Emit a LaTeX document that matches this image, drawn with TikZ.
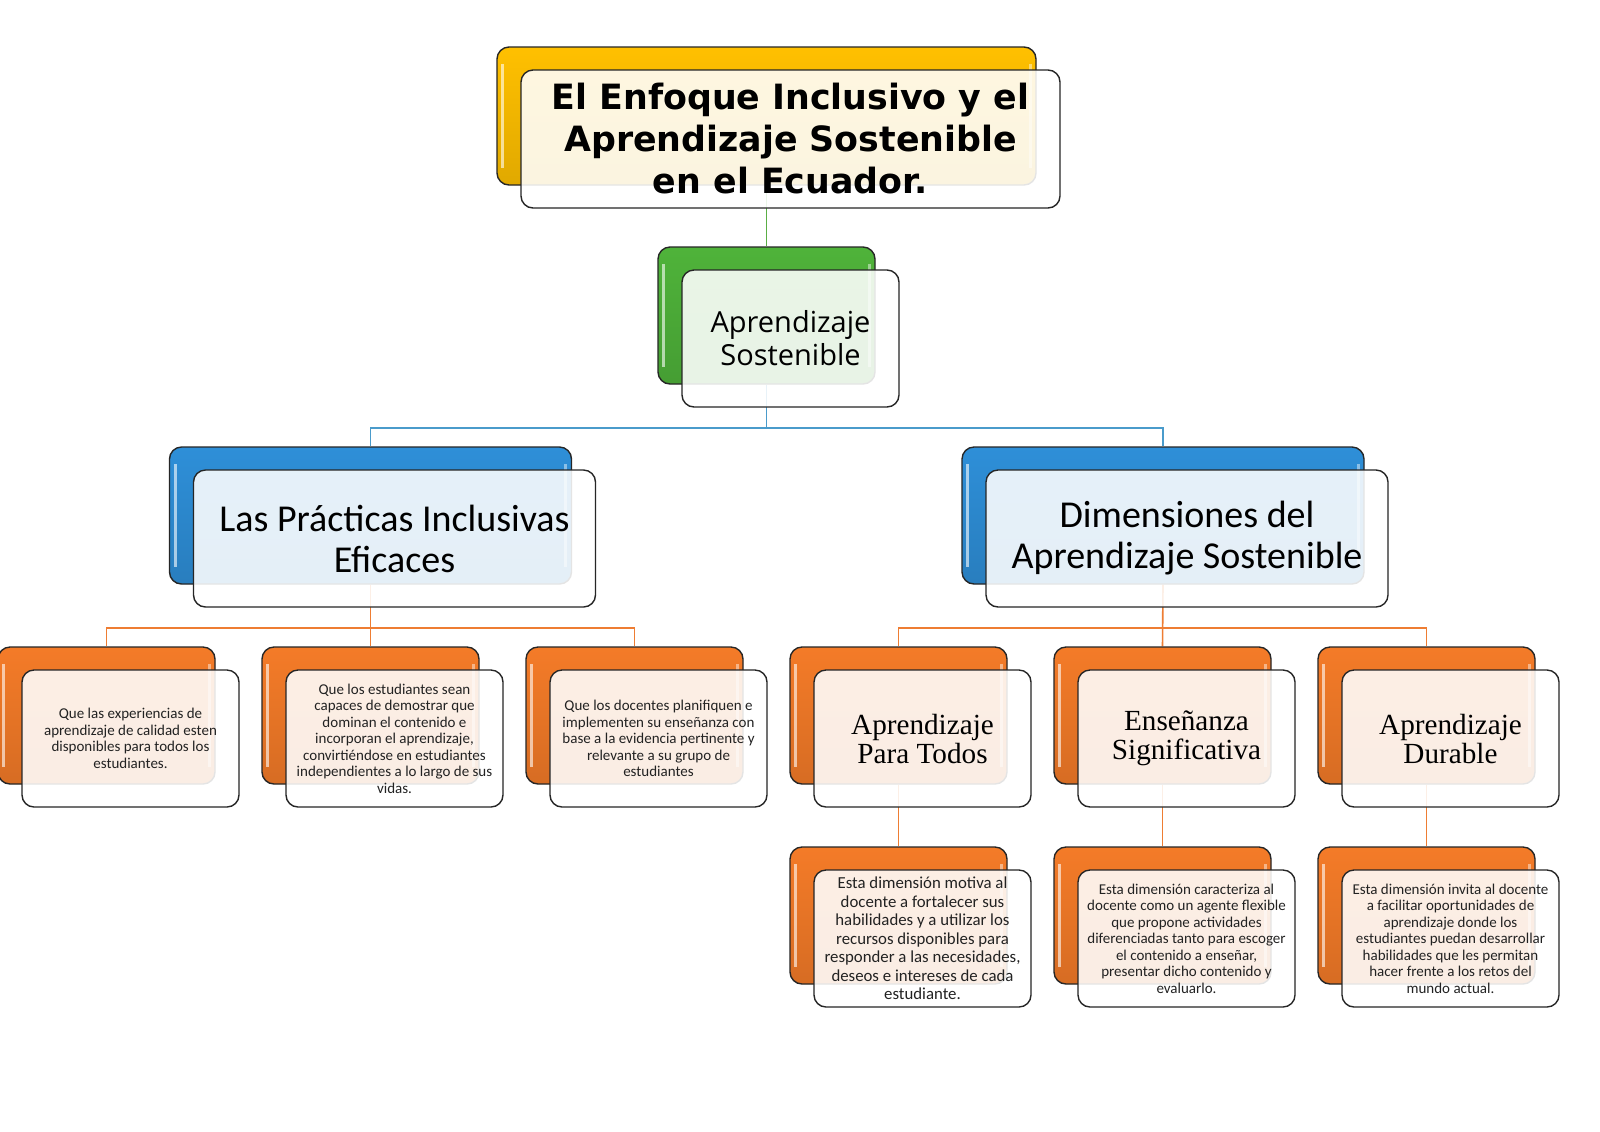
\documentclass[tikz,border=0pt]{standalone}
\usepackage{fontspec}
\setmainfont{Carlito}
\newfontfamily\titlefont{DejaVu Sans}
\newfontfamily\greenfont{Open Sans}
\newfontfamily\seriffont{Liberation Serif}
\pgfdeclarelayer{paper}
\pgfdeclarelayer{bg}
\pgfsetlayers{paper,bg,main}
\definecolor{cyellow}{HTML}{FFC000}
\definecolor{cgreen}{HTML}{4FB33A}
\definecolor{cblue}{HTML}{2E8FD8}
\definecolor{corange}{HTML}{F47B28}
\definecolor{lgreen}{HTML}{5AAE45}
\definecolor{lblue}{HTML}{4A9BCB}
\definecolor{lorange}{HTML}{EE7D33}
\definecolor{edge}{HTML}{262626}
\definecolor{txt}{HTML}{222222}
\tikzset{
  backbox/.style={draw=edge, line width=0.7pt, rounded corners=6pt, inner sep=0pt},
  frontbox/.style={draw=edge, line width=0.7pt, rounded corners=6pt, fill=white,
    fill opacity=0.88, text opacity=1, draw opacity=1, inner sep=2pt, align=center, text=txt},
  conn/.style={line width=0.8pt},
  titlef/.style={font=\titlefont\bfseries\fontsize{17.4}{21}\selectfont, text=black},
  greenf/.style={font=\greenfont\fontsize{14.5}{16.5}\selectfont, text=black},
  midf/.style={font=\fontsize{19}{20.5}\selectfont, text=black},
  smallf/.style={font=\fontsize{7.5}{8.25}\selectfont},
  medf/.style={font=\fontsize{8.4}{9.25}\selectfont},
  serf/.style={font=\seriffont\fontsize{14.6}{14.5}\selectfont, text=black},
}
% name, color, cx, cy, w, h, font style, text
\newcommand\elem[8]{%
  \node[backbox, top color=#2, bottom color=#2!88!black,
        minimum width=#5*0.5pt, minimum height=#6*0.5pt] (#1b) at (#3,#4) {};%
  \fill[white, opacity=0.6] ([xshift=2.5pt,yshift=-9pt]#1b.north west) rectangle ([xshift=4pt,yshift=9pt]#1b.south west);%
  \fill[white, opacity=0.45] ([xshift=-4pt,yshift=-9pt]#1b.north east) rectangle ([xshift=-2.5pt,yshift=9pt]#1b.south east);%
  \node[frontbox, #7, minimum width=#5*0.5pt, minimum height=#6*0.5pt] (#1) at (#3+24,#4+23) {#8};%
}
\begin{document}
\begin{tikzpicture}[x=0.5pt,y=-0.5pt]
\begin{pgfonlayer}{paper}
  \fill[white] (0,0) rectangle (1600,1131);
\end{pgfonlayer}

\elem{T}{cyellow}{766.5}{116}{539}{138}{titlef}{El Enfoque Inclusivo y el\\Aprendizaje Sostenible\\en el Ecuador.}
\elem{G}{cgreen}{766.5}{315.5}{217}{137}{greenf}{Aprendizaje\\Sostenible}
\elem{BL}{cblue}{370.5}{515.5}{402}{137}{midf}{Las Prácticas Inclusivas\\Eficaces}
\elem{BR}{cblue}{1163}{515.5}{402}{137}{midf}{Dimensiones del\\Aprendizaje Sostenible}

\elem{O1}{corange}{106.5}{715.5}{217}{137}{smallf}{Que las experiencias de\\aprendizaje de calidad esten\\disponibles para todos los\\estudiantes.}
\elem{O2}{corange}{370.5}{715.5}{217}{137}{smallf}{Que los estudiantes sean\\capaces de demostrar que\\dominan el contenido e\\incorporan el aprendizaje,\\convirtiéndose en estudiantes\\independientes a lo largo de sus\\vidas.}
\elem{O3}{corange}{634.5}{715.5}{217}{137}{smallf}{Que los docentes planifiquen e\\implementen su enseñanza con\\base a la evidencia pertinente y\\relevante a su grupo de\\estudiantes}
\elem{O4}{corange}{898.5}{715.5}{217}{137}{serf}{Aprendizaje\\Para Todos}
\elem{O5}{corange}{1162.5}{715.5}{217}{137}{serf}{Enseñanza\\Significativa}
\elem{O6}{corange}{1426.5}{715.5}{217}{137}{serf}{Aprendizaje\\Durable}

\elem{D4}{corange}{898.5}{915.5}{217}{137}{medf}{Esta dimensión motiva al\\docente a fortalecer sus\\habilidades y a utilizar los\\recursos disponibles para\\responder a las necesidades,\\deseos e intereses de cada\\estudiante.}
\elem{D5}{corange}{1162.5}{915.5}{217}{137}{smallf}{Esta dimensión caracteriza al\\docente como un agente flexible\\que propone actividades\\diferenciadas tanto para escoger\\el contenido a enseñar,\\presentar dicho contenido y\\evaluarlo.}
\elem{D6}{corange}{1426.5}{915.5}{217}{137}{smallf}{Esta dimensión invita al docente\\a facilitar oportunidades de\\aprendizaje donde los\\estudiantes puedan desarrollar\\habilidades que les permitan\\hacer frente a los retos del\\mundo actual.}

\coordinate (h1) at (0,428);
\coordinate (h2) at (0,628);
\begin{pgfonlayer}{bg}
  \draw[conn, lgreen] (Tb.south) -- (Gb.north);
  \draw[conn, lblue] (Gb.south) -- (Gb.south |- h1) -| (BLb.north);
  \draw[conn, lblue] (Gb.south |- h1) -| (BRb.north);
  \draw[conn, lorange] (BLb.south) -- (O2b.north);
  \draw[conn, lorange] (BLb.south |- h2) -| (O1b.north);
  \draw[conn, lorange] (BLb.south |- h2) -| (O3b.north);
  \draw[conn, lorange] (BRb.south) -- (O5b.north);
  \draw[conn, lorange] (BRb.south |- h2) -| (O4b.north);
  \draw[conn, lorange] (BRb.south |- h2) -| (O6b.north);
  \draw[conn, lorange] (O4b.south) -- (D4b.north);
  \draw[conn, lorange] (O5b.south) -- (D5b.north);
  \draw[conn, lorange] (O6b.south) -- (D6b.north);
\end{pgfonlayer}
\pgfresetboundingbox
\useasboundingbox (0,0) rectangle (1600,1131);
\end{tikzpicture}
\end{document}
